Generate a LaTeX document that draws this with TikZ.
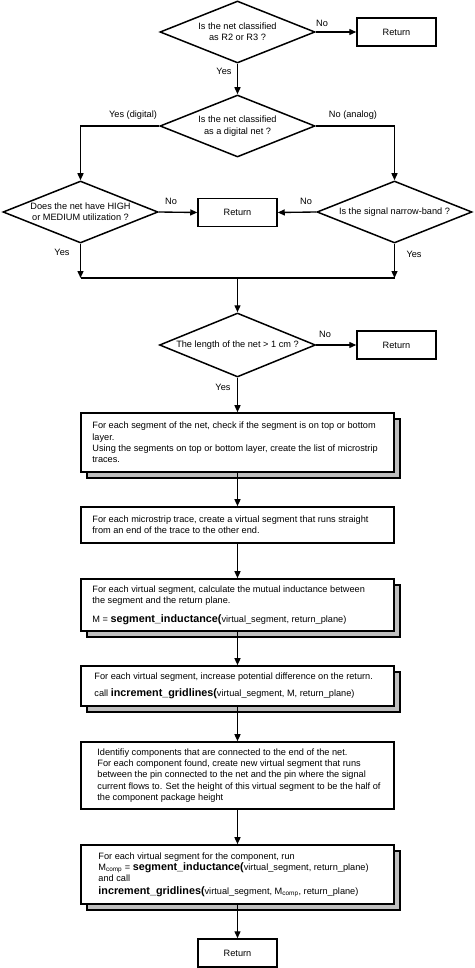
\documentclass[tikz,border=0pt]{standalone}
\usepackage{fontspec}
\setmainfont{Liberation Sans}
\usetikzlibrary{shapes.geometric,arrows.meta,shadows}
\newcommand\fnname[1]{{\fontsize{10.8}{11.3}\selectfont\bfseries #1}}
\begin{document}
\begin{tikzpicture}[x=1pt,y=-1pt,
  font=\fontsize{9.2}{11.4}\selectfont,
  line/.style={line width=1.35pt},
  arr/.style={line width=1.35pt,-{Triangle[length=7pt,width=6pt]}},
  dia/.style={diamond,draw,line width=1.5pt,minimum width=155pt,minimum height=62pt,inner sep=0pt,aspect=2.5,align=center},
  retbox/.style={rectangle,draw,line width=1.5pt,minimum width=79pt,minimum height=28pt,inner sep=0pt},
  procbox/.style={rectangle,draw,line width=1.6pt,minimum width=313pt,inner sep=0pt,fill=white},
  shbox/.style={procbox,general shadow={shadow xshift=6pt,shadow yshift=-6pt,fill=black!25,draw=black,line width=1.3pt}},
  boxtext/.style={anchor=west,align=left,inner sep=0pt},
  lbl/.style={inner sep=0pt}
]
\useasboundingbox (0,0) rectangle (474,968);

% decisions
\node[dia] (d1) at (237.5,32) {Is the net classified\\as R2 or R3 ?};
\node[retbox] (r1) at (396.5,32) {Return};
\node[dia] (d2) at (237.5,126) {Is the net classified\\as a digital net ?};
\node[dia] (d3) at (80.5,212) {Does the net have HIGH\\or MEDIUM utilization ?};
\node[dia] (d4) at (394.5,212) {Is the signal narrow-band ?};
\node[retbox] (r2) at (237.5,212.5) {Return};
\node[dia,minimum width=156pt,minimum height=64pt] (d5) at (237.5,345) {The length of the net > 1 cm ?};
\node[retbox] (r3) at (396.5,345) {Return};

\coordinate (j1) at (80.5,278);
\coordinate (j2) at (394.5,278);
\coordinate (j3) at (237.5,278);

% process boxes
\node[shbox,minimum height=59pt] (b1) at (237.5,442.5) {};
\node[boxtext] (t1) at ([xshift=12pt]b1.west) {For each segment of the net, check if the segment is on top or bottom\\layer.\\Using the segments on top or bottom layer, create the list of microstrip\\traces.};

\node[procbox,minimum height=36pt] (b2) at (237.5,525) {};
\node[boxtext] (t2) at ([xshift=12pt]b2.west) {For each microstrip trace, create a virtual segment that runs straight\\from an end of the trace to the other end.};

\node[shbox,minimum height=52pt] (b3) at (237.5,605) {};
\node[boxtext] (t3) at ([xshift=12pt]b3.west) {For each virtual segment, calculate the mutual inductance between\\the segment and the return plane.\\[7pt]M = \fnname{segment\_inductance(}virtual\_segment, return\_plane)};

\node[shbox,minimum height=40pt] (b4) at (237.5,686) {};
\node[boxtext] (t4) at ([xshift=14pt]b4.west) {For each virtual segment, increase potential difference on the return.\\[6pt]call \fnname{increment\_gridlines(}virtual\_segment, M, return\_plane)};

\node[procbox,minimum height=67pt] (b5) at (237.5,775.5) {};
\node[boxtext] (t5) at ([xshift=17pt]b5.west) {Identifiy components that are connected to the end of the net.\\For each component found, create new virtual segment that runs\\between the pin connected to the net and the pin where the signal\\current flows to. Set the height of this virtual segment to be the half of\\the component package height};

\node[shbox,minimum height=59pt] (b6) at (237.5,874.5) {};
\node[boxtext] (t6) at ([xshift=18pt]b6.west) {For each virtual segment for the component, run\\M\textsubscript{comp} = \fnname{segment\_inductance(}virtual\_segment, return\_plane)\\and call\\[1pt]\fnname{increment\_gridlines(}virtual\_segment, M\textsubscript{comp}, return\_plane)};

\node[retbox] (r4) at (237.5,953) {Return};

% connectors
\draw[arr] (d1.south) -- (d2.north);
\draw[arr] (d1.east) -- (r1.west);
\draw[arr] (d2.west) -| (d3.north);
\draw[arr] (d2.east) -| (d4.north);
\draw[arr] (d3.east) -- (r2.west);
\draw[arr] (d4.west) -- (r2.east);
\draw[arr] (d3.south) -- (j1);
\draw[arr] (d4.south) -- (j2);
\draw[line] (j1) -- (j2);
\draw[arr] (j3) -- (d5.north);
\draw[arr] (d5.east) -- (r3.west);
\draw[arr] (d5.south) -- (b1.north);
\draw[arr] (b1.south) -- (b2.north);
\draw[arr] (b2.south) -- (b3.north);
\draw[arr] (b3.south) -- (b4.north);
\draw[arr] (b4.south) -- (b5.north);
\draw[arr] (b5.south) -- (b6.north);
\draw[arr] (b6.south) -- (r4.north);

% labels
\node[lbl] (l1) at (322,23) {No};
\node[lbl] (l2) at (224,71) {Yes};
\node[lbl] (l3) at (133,115) {Yes (digital)};
\node[lbl] (l4) at (353,115) {No (analog)};
\node[lbl] (l5) at (171,201) {No};
\node[lbl] (l6) at (306,201) {No};
\node[lbl] (l7) at (62,252) {Yes};
\node[lbl] (l8) at (414,254) {Yes};
\node[lbl] (l9) at (325,334) {No};
\node[lbl] (l10) at (223,387) {Yes};
\end{tikzpicture}
\end{document}
